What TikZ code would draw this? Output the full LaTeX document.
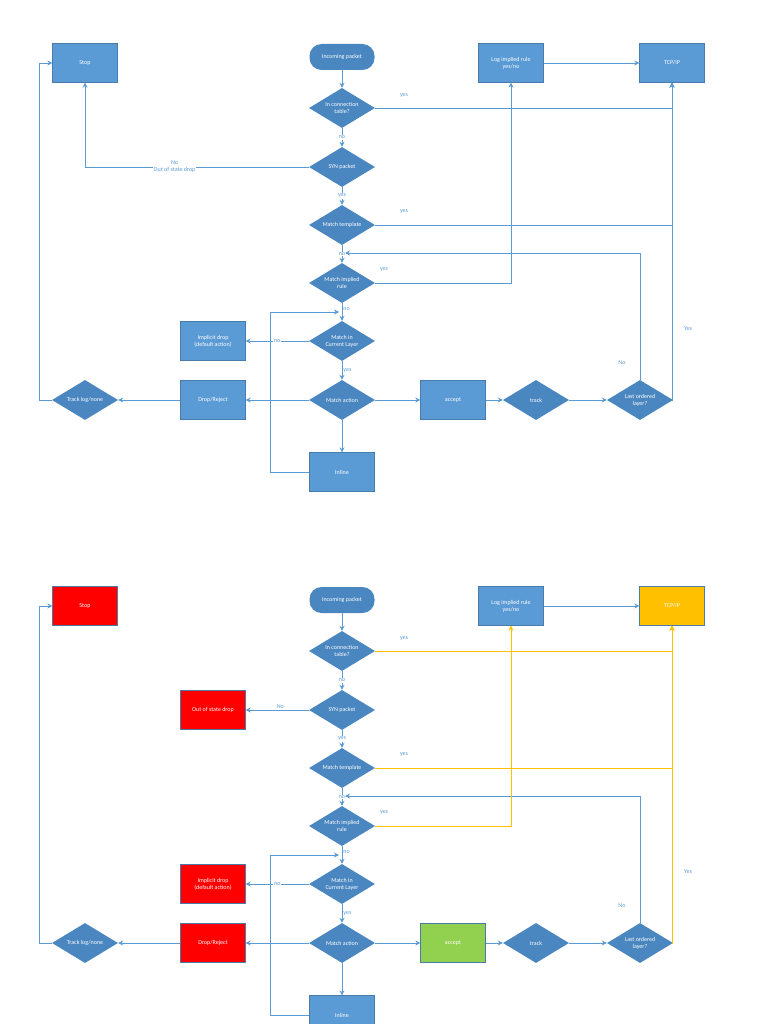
\documentclass[tikz,border=0pt]{standalone}
\usepackage{fontspec}
\setmainfont{Carlito}
\usetikzlibrary{shapes.geometric,arrows.meta}
\definecolor{boxc}{HTML}{5B9BD5}
\definecolor{dmc}{HTML}{4A86C0}
\definecolor{redc}{HTML}{FF0000}
\definecolor{ylc}{HTML}{FFC000}
\definecolor{grc}{HTML}{92D050}
\newcommand\fcpart[1]{%
\node[bx,fill=\stopc] (#1s) at (85,63) {Stop};
\node[rbx] (#1in) at (342,57) {Incoming packet};
\node[bx] (#1log) at (511,63) {Log implied rule\\yes/no};
\node[bx,fill=\tcpc] (#1tcp) at (672,63) {TCP/IP};
\node[dm] (#1ct) at (342,108) {In connection\\table?};
\node[dm] (#1syn) at (342,167) {SYN packet};
\node[dm] (#1mt) at (342,225) {Match template};
\node[dm] (#1mi) at (342,283) {Match implied\\rule};
\node[dm] (#1ml) at (342,341) {Match in\\Current Layer};
\node[dm] (#1ma) at (342,400) {Match action};
\node[bx] (#1il) at (342,472) {Inline};
\node[bx,fill=\dropc] (#1id) at (213,341) {Implicit drop\\(default action)};
\node[bx,fill=\dropc] (#1dr) at (213,400) {Drop/Reject};
\node[dm] (#1tl) at (85,400) {Track log/none};
\node[bx,fill=\accc] (#1ac) at (453,400) {accept};
\node[dm] (#1tr) at (536,400) {track};
\node[dm] (#1lo) at (640,400) {Last ordered\\layer?};
\coordinate (#1j1) at (339,312);
\coordinate (#1j2) at (345,253);
\draw[ar] (#1in) -- (#1ct);
\draw[ar] (#1ct) -- node[lbw]{no} (#1syn);
\draw[ar] (#1syn) -- node[lbw]{yes} (#1mt);
\draw[ar] (#1mt) -- node[lbw]{no} (#1mi);
\draw[ar] (#1mi) -- node[lb,right,pos=0.35]{no} (#1ml);
\draw[ar] (#1ml) -- node[lb,right]{yes} (#1ma);
\draw[ar] (#1ma) -- (#1il);
\draw[ar] (#1ma) -- (#1ac);
\draw[ar] (#1ac) -- (#1tr);
\draw[ar] (#1tr) -- (#1lo);
\draw[ar] (#1ma) -- (#1dr);
\draw[ar] (#1dr) -- (#1tl);
\draw[ar] (#1log) -- (#1tcp);
\draw[ar] (#1ml) -- node[lbw]{no} (#1id);
\draw[ar] (#1tl.west) -- ++(-12,0) |- (#1s.west);
\draw[ar] (#1il.west) -- ++(-39,0) |- (#1j1);
\draw[ar] (#1lo.north) |- (#1j2);
\node[lb] at (622,363) {No};
\draw[ar,draw=\yesc] (#1ct.east) -| (#1tcp.south);
\node[lb] at (404,96) {yes};
\draw[ar,draw=\yesc] (#1mt.east) -| (#1tcp.south);
\node[lb] at (404,212) {yes};
\draw[ar,draw=\yesc] (#1mi.east) -| (#1log.south);
\node[lb] at (384,270) {yes};
\draw[ar,draw=\yesc] (#1lo.east) -| (#1tcp.south);
\node[lb] at (688,329) {Yes};
}
\begin{document}
\begin{tikzpicture}[x=1pt,y=-1pt,
 font=\fontsize{6}{7}\selectfont,
 bx/.style={draw=boxc!80!black,line width=0.3pt,fill=boxc,text=white,minimum width=65pt,minimum height=39pt,inner sep=1pt,align=center},
 rbx/.style={fill=dmc,text=white,rounded corners=12pt,minimum width=65pt,minimum height=26pt,inner sep=1pt,align=center},
 dm/.style={diamond,fill=dmc,text=white,minimum width=66pt,minimum height=40pt,shape aspect=1.65,inner sep=0pt,align=center},
 ar/.style={draw=boxc,line width=0.8pt,-{Stealth[length=5pt,width=5pt]}},
 lb/.style={text=boxc,inner sep=1pt},
 lbw/.style={lb,fill=white}]
\useasboundingbox (0,0) rectangle (768,1024);
\clip (0,0) rectangle (768,1024);
\begin{scope}
\def\stopc{boxc}\def\tcpc{boxc}\def\dropc{boxc}\def\accc{boxc}\def\yesc{boxc}
\fcpart{a}
\draw[ar] (asyn.west) -| node[lbw,pos=0.3,align=center]{No\\Out of state drop} (as.south);
\end{scope}
\begin{scope}[shift={(0,543)}]
\def\stopc{redc}\def\tcpc{ylc}\def\dropc{redc}\def\accc{grc}\def\yesc{ylc}
\fcpart{b}
\node[bx,fill=redc] (bod) at (213,167) {Out of state drop};
\draw[ar] (bsyn) -- node[lb,above,pos=0.45]{No} (bod);
\end{scope}
\end{tikzpicture}
\end{document}
